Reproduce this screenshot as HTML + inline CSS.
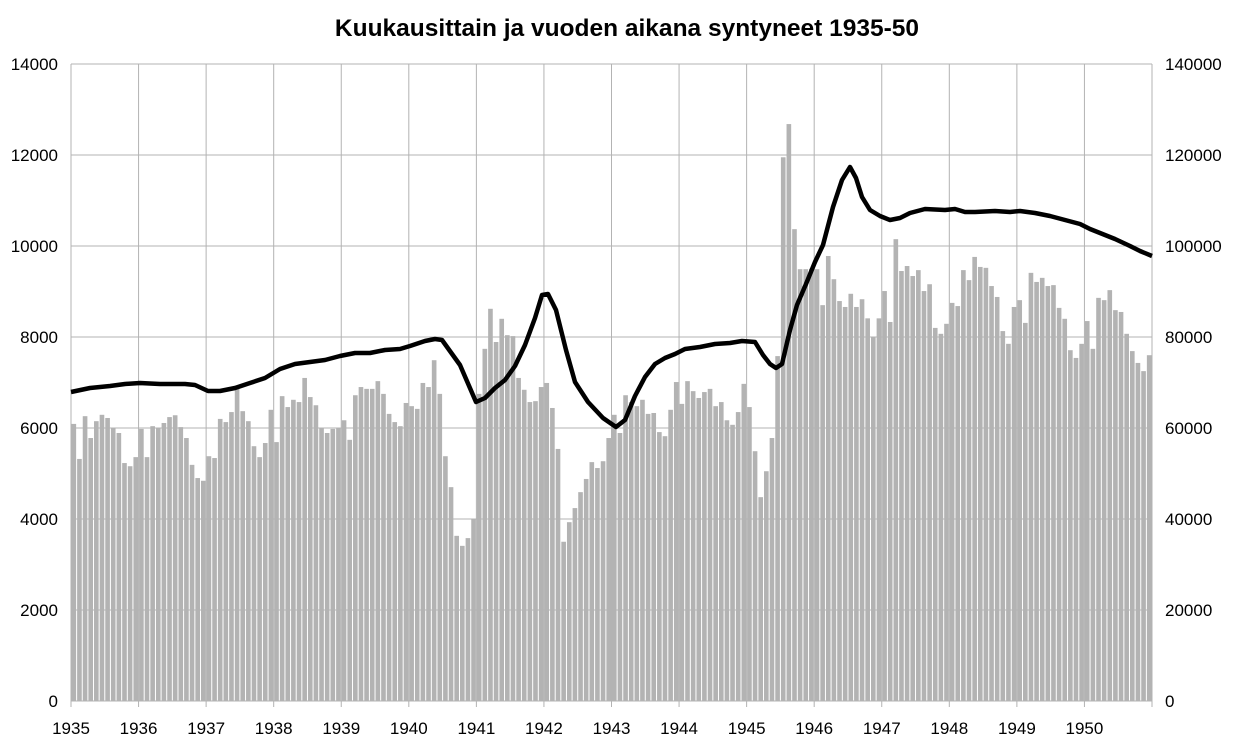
<!DOCTYPE html>
<html><head><meta charset="utf-8"><style>
body{margin:0;background:#fff;}
svg{display:block;font-family:"Liberation Sans",sans-serif;}
</style></head><body>
<svg id="c" width="1235" height="746" xmlns="http://www.w3.org/2000/svg">
<text x="627" y="36" text-anchor="middle" font-size="24.5" font-weight="bold">Kuukausittain ja vuoden aikana syntyneet 1935-50</text>
<g id="grid" stroke="#b3b3b3" stroke-width="1"></g>
<g id="bars" fill="#b3b3b3"></g>
<polyline fill="none" stroke="#000" stroke-width="4.5" stroke-linejoin="round" points="71,392 90,388 110,386 125,384 140,383 160,384 185,384 195,385 208,391 220,391 235,388 250,383 265,378 280,369 295,364 310,362 325,360 340,356 355,353 370,353 385,350 400,349 410,346 425,341 435,339 442,340 460,365 476,402 485,398 495,388 505,380 515,366 525,345 535,318 542,295 548,294 556,310 566,350 575,382 588,402 603,418 616,427 625,420 635,396 645,377 655,364 665,358 675,354 685,349 700,347 715,344 730,343 742,341 755,342 763,355 770,364 776,368 782,364 790,330 797,305 806,284 815,262 823,245 833,207 842,180 850,167 856,178 862,197 870,210 880,216 890,220 900,218 910,213 925,209 945,210 955,209 965,212 975,212 995,211 1010,212 1020,211 1035,213 1050,216 1065,220 1080,224 1090,229 1100,233 1115,239 1130,246 1140,251 1152,256"/>
<g id="labels" font-size="17" fill="#000"></g>
</svg>
<script>
var ns="http://www.w3.org/2000/svg";
var v=[6090,5320,6260,5780,6150,6290,6220,6000,5890,5230,5160,5360,
5980,5360,6040,6000,6110,6240,6280,6020,5780,5190,4900,4840,
5380,5340,6200,6130,6350,6900,6370,6150,5600,5360,5670,6400,
5690,6700,6460,6620,6570,7100,6680,6500,6000,5890,5980,6000,
6170,5740,6720,6900,6860,6860,7030,6750,6310,6130,6040,6550,
6480,6420,6990,6900,7490,6750,5380,4700,3630,3410,3580,4000,
6750,7740,8620,7890,8400,8040,8020,7100,6840,6570,6590,6900,
6990,6440,5540,3500,3930,4240,4590,4880,5250,5120,5270,5780,
6290,5890,6720,6570,6480,6620,6310,6330,5910,5820,6400,7010,
6530,7030,6810,6660,6790,6860,6480,6570,6170,6070,6350,6970,
6460,5490,4480,5050,5780,7580,11950,12680,10370,9490,9490,9500,
9490,8700,9780,9270,8790,8660,8950,8660,8830,8410,8000,8410,
9010,8330,10150,9450,9560,9340,9470,9010,9160,8200,8070,8290,
8750,8680,9470,9250,9760,9540,9520,9120,8880,8130,7850,8660,
8810,8310,9410,9210,9300,9120,9140,8640,8400,7710,7540,7850,
8350,7740,8860,8810,9030,8590,8550,8070,7690,7430,7250,7600];
var x0=71,x1=1152,y0=701,k=637/14000,mw=(x1-x0)/192;
function el(t,a,p,txt){var e=document.createElementNS(ns,t);for(var n in a)e.setAttribute(n,a[n]);if(txt!=null)e.textContent=txt;p.appendChild(e);return e;}
var g=document.getElementById('grid'),b=document.getElementById('bars'),L=document.getElementById('labels');
for(var i=0;i<=7;i++){var y=y0-i*2000*k;el('line',{x1:x0,x2:x1,y1:y,y2:y},g);
el('text',{x:58,y:y+6,'text-anchor':'end'},L,String(i*2000));
el('text',{x:1165,y:y+6},L,String(i*20000));}
for(var j=0;j<=16;j++){var x=x0+j*12*mw;el('line',{x1:x,x2:x,y1:64,y2:y0+6},g);
if(j<16)el('text',{x:x,y:734,'text-anchor':'middle'},L,String(1935+j));}
for(var m=0;m<192;m++){var h=v[m]*k;el('rect',{x:x0+m*mw+0.5,y:y0-h,width:mw-1,height:h},b);}
</script>
</body></html>
